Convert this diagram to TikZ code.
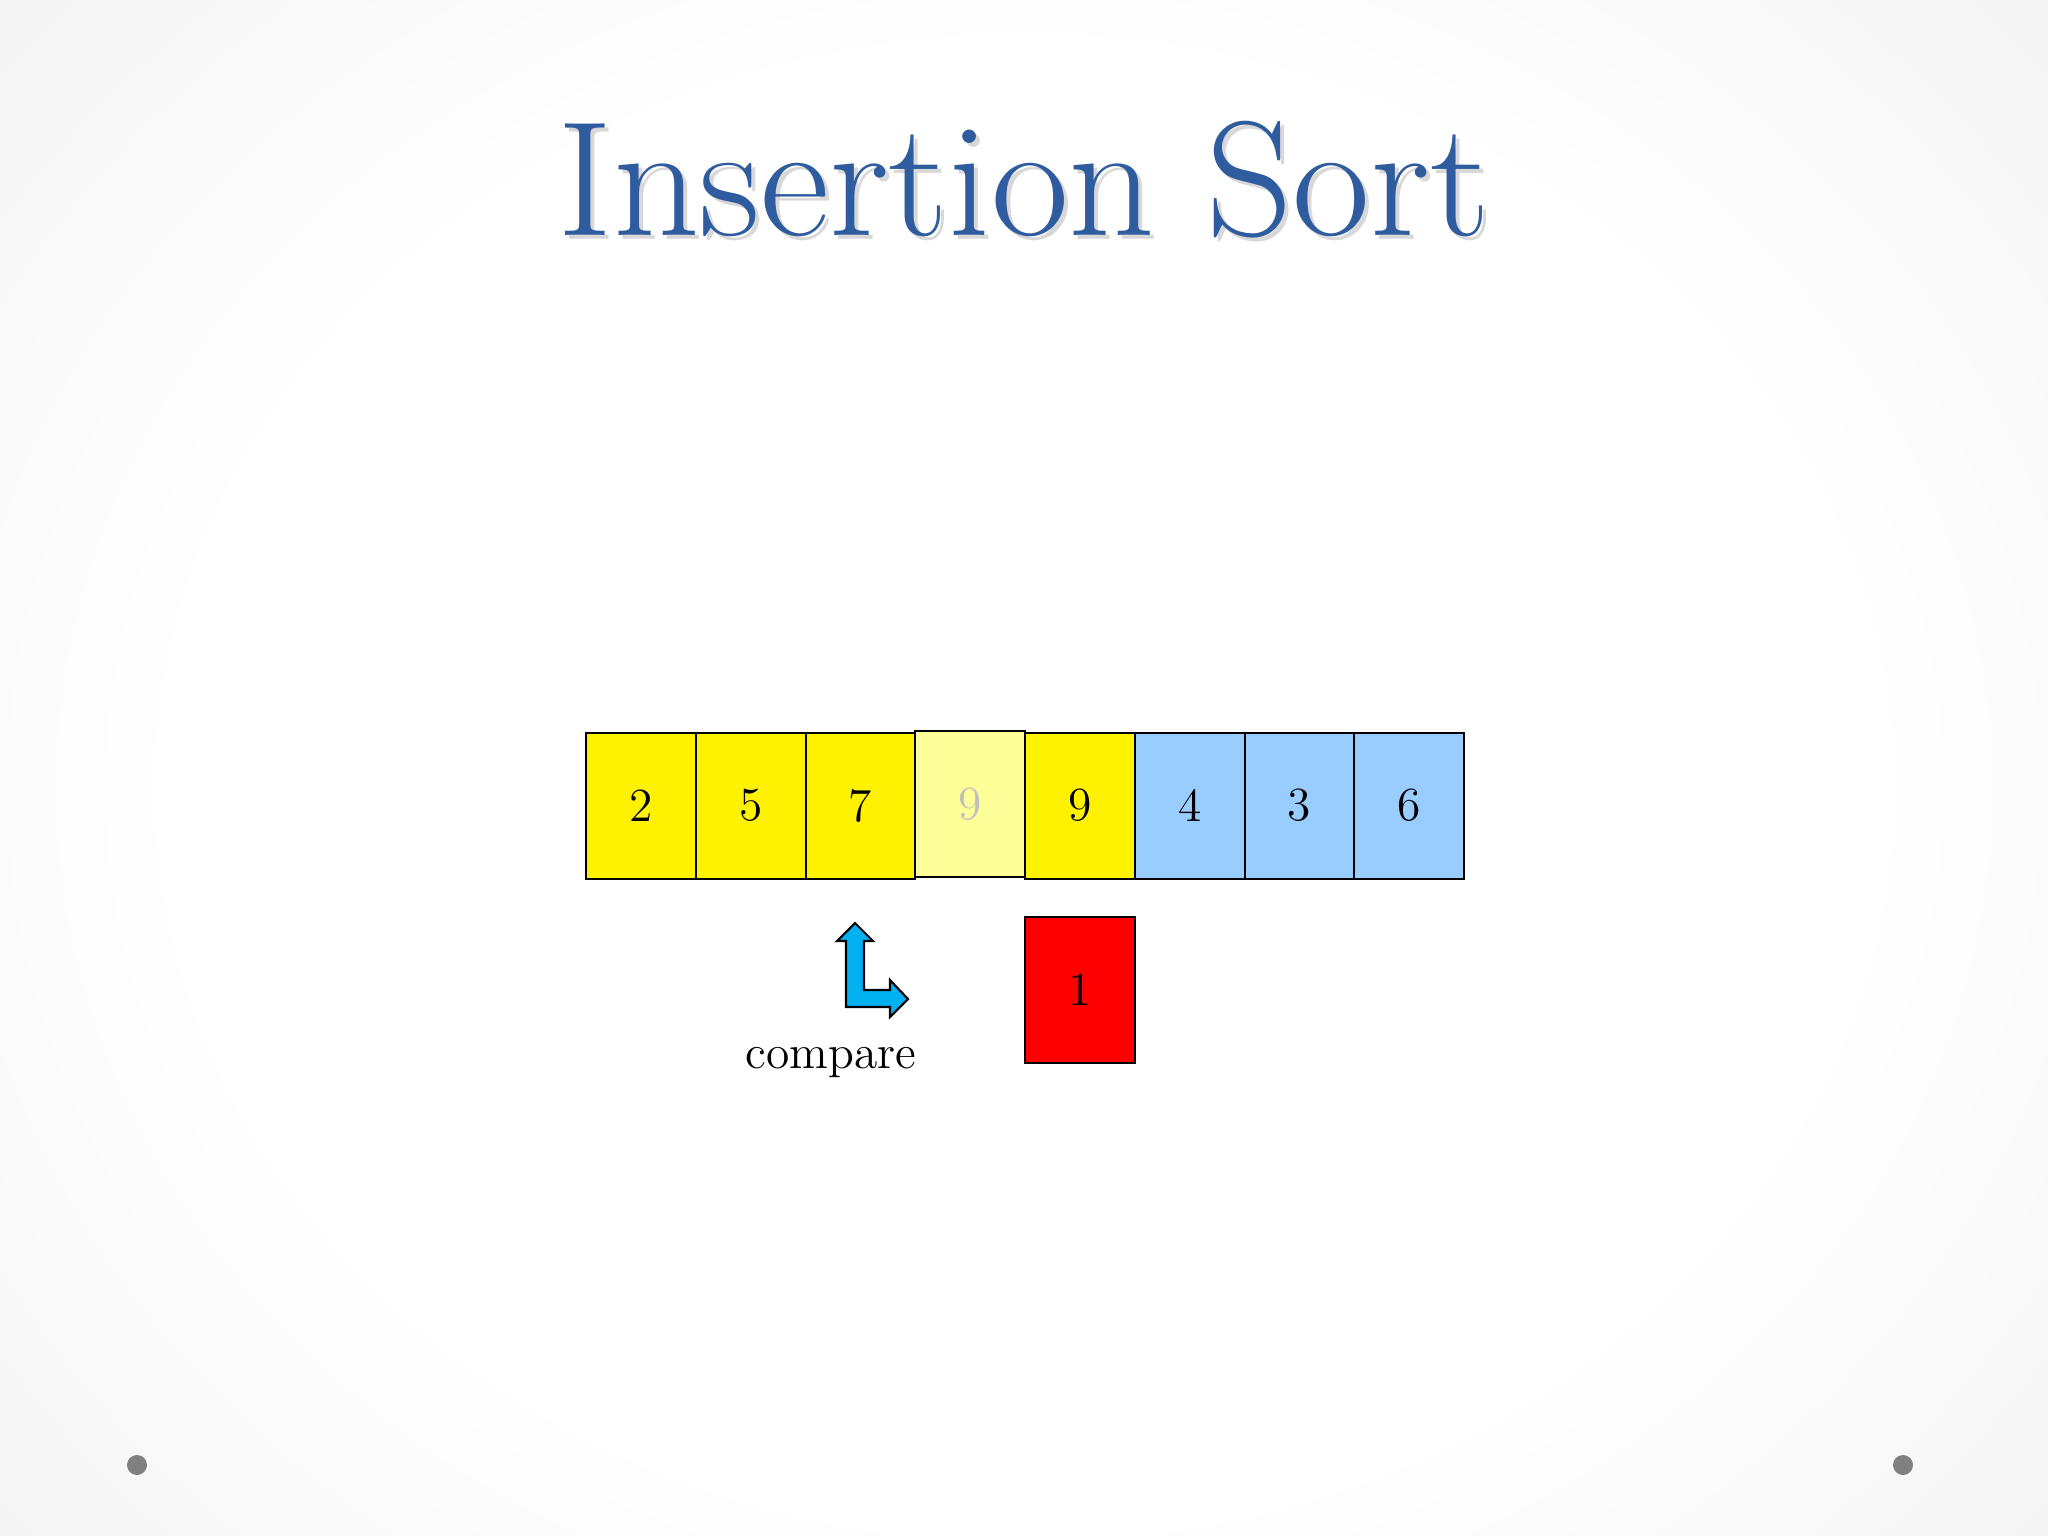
\documentclass[tikz,border=0pt]{standalone}
\usepackage{fontspec}
\pgfdeclareradialshading{slidebg}{\pgfpoint{0bp}{0bp}}{color(0bp)=(white); color(18bp)=(white); color(34bp)=(black!6); color(45bp)=(black!13); color(50bp)=(black!16)}
\begin{document}
\begin{tikzpicture}[x=0.01cm,y=-0.01cm,
  cell/.style={draw=black,line width=0.6pt,minimum width=1.0975cm,minimum height=1.46cm,inner sep=0pt,anchor=north west,font=\fontsize{13.5}{15}\selectfont},
  sorted/.style={cell,fill=yellow},
  unsorted/.style={cell,fill=blueA},
  ghost/.style={cell,fill=yellowF,text=gray!50},
  keycell/.style={cell,fill=red},
  arrowshape/.style={draw=black,line width=0.6pt,fill=cyanA,line join=miter}]
\definecolor{blueA}{RGB}{153,204,255}
\definecolor{yellowF}{RGB}{255,255,153}
\definecolor{cyanA}{RGB}{0,176,240}
\definecolor{titleblue}{RGB}{46,92,158}
\useasboundingbox (0,0) rectangle (2048,1536);
\shade[shading=slidebg] (-150,-230) rectangle (2198,1806);
% title
\node[text=black!30,opacity=0.5,font=\fontsize{46.5}{50}\selectfont,anchor=base] at (1028,239) {\scalebox{1.035}[1]{Insertion Sort}};
\node[text=titleblue,font=\fontsize{46.5}{50}\selectfont,anchor=base] (title) at (1024,235) {\scalebox{1.035}[1]{Insertion Sort}};
% cells
\node[sorted] (b1) at (585,731.5) {2};
\node[sorted] (b2) at (694.75,731.5) {5};
\node[sorted] (b3) at (804.5,731.5) {7};
\node[ghost] (g) at (914.25,730) {9};
\node[sorted] (b5) at (1024,731.5) {9};
\node[unsorted] (b6) at (1133.75,731.5) {4};
\node[unsorted] (b7) at (1243.5,731.5) {3};
\node[unsorted] (b8) at (1353.25,731.5) {6};
\node[keycell] (key) at (1024,915.5) {1};
% compare arrow
\draw[arrowshape] (855,923) -- (873,941) -- (864,941) -- (864,990) -- (890,990) -- (890,980)
  -- (908,999) -- (890,1017) -- (890,1007) -- (846,1007) -- (846,941) -- (837,941) -- cycle;
\node[anchor=base,font=\fontsize{13.5}{15}\selectfont,inner sep=0pt] (cmp) at (831,1068) {compare};
% corner dots
\fill[black!50] (137,1465) circle (10);
\fill[black!50] (1903,1465) circle (10);
\end{tikzpicture}
\end{document}
